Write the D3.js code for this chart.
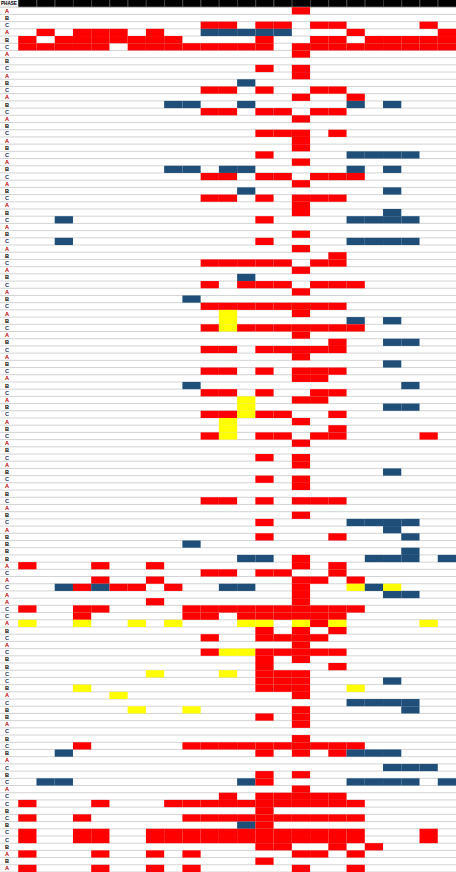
<!DOCTYPE html>
<html><head><meta charset="utf-8">
<script src="https://cdn.jsdelivr.net/npm/d3@7"></script>
<style>html,body{margin:0;padding:0;background:#fff;}svg{display:block;}</style>
</head><body>
<svg id="chart" width="456" height="872"></svg>
<script>
// Row labels (phases), top to bottom
const phases = [
  "A","B","C","A","B","C","A","B","C","A","B","C","A","B","C","A","B","C","A","B","C","A","B","C",
  "A","B","C","A","B","C","A","B","C","A","B","C","A","B","C","A","B","C","A","B","C","A","B","C",
  "A","B","C","A","B","C","A","B","C","A","B","C","A","B","C","A","B","C","A","B","C",
  "A","B","C","A","B","B","B","B","A","C",
  "A","C","A","A","C","C","A","B","C","A",
  "C","B","B","C","C","B","A","C","B","B",
  "A","C","B","C","B","A","C","B","C","A",
  "C","C","B","C","B","C","C","B","A","B","A"
];
// Column indices (24 time slots)
const columns = d3.range(24);
// Cell states per row: "." empty, "R" red, "N" navy, "Y" yellow (24 chars each)
const cellCodes = [
  "..................R.....".slice(0,0)+"...............R........",
  "........................",
  "..........RR.RR.RR....R.",
  ".R.RRR.R..NNNNN...R....R",
  "R.RRRRRRR....R..RR.RRRRR",
  "RRRRR.RRRRRRRR.RRRRRRRRR",
  "...............R........",
  "........................",
  ".............R.R........",
  "...............R........",
  "............N...........",
  "..........RR.R..RR......",
  "...............R..R.....",
  "........NN..N.....N.N...",
  "..........RR.RR.RR......",
  "...............R........",
  "........................",
  ".............RRR.R......",
  "...............R........",
  "...............R........",
  ".............R....NNNN..",
  "...............R........",
  "........NN.NN.....N.N...",
  "..........RR.RR.RRR.....",
  "...............R........",
  "............N.......N...",
  "..........RR.R.RRR......",
  "...............R........",
  "...............R....N...",
  "..N..........R....NNNN..",
  "........................",
  "...............R........",
  "..N..........R....NNNN..",
  "...............R........",
  ".................R......",
  "..........RRRRR.RR......",
  "...............R........",
  "............N...........",
  "..........R.RRR.RRR.....",
  "...............R........",
  ".........N..............",
  "..........RRRRRRRR......",
  "...........Y...R........",
  "...........Y......N.N...",
  "..........RYRRRRRRR.....",
  "...............R........",
  ".................R..NN..",
  "..........RR.RRRRR......",
  "...............R........",
  "....................N...",
  "..........RR.R.RRR......",
  "...............RR.......",
  ".........N...........N..",
  "..........RR.R..RR......",
  "............Y..RR.......",
  "............Y.......NN..",
  "..........RRYRR..R......",
  "...........Y...R........",
  "...........Y.....R......",
  "..........RY.RR.RR....R.",
  "...............R........",
  "........................",
  ".............R.R........",
  "...............R........",
  "....................N...",
  ".............R.R........",
  "...............R........",
  "........................",
  "..........RR.R.RRR......",
  "........................",
  "...............R........",
  ".............R....NNNN..",
  "....................N...",
  ".............R...R...N..",
  ".........N..............",
  ".....................N..",
  "............NN.R...NNN.N",
  "R...R..R.......R.R......",
  "..........RR.RR..R......",
  "....R..R.......RR.R.....",
  "..NRNRR.R..NN..R..YNY...",
  "...............R....NN..",
  ".......R.......R........",
  "R..RR....RRRRRRRRRR.....",
  "...R.....RR.RRRRRR......",
  "Y..Y..Y.Y...YY.YRY....Y.",
  ".............R.R.R......",
  "..........R..RRRR.......",
  "...............R........",
  "..........RYYRRRRR......",
  ".............R.R........",
  ".............R...R......",
  ".......Y...Y.RRR........",
  ".............RRR....N...",
  "...Y.........RRR..Y.....",
  ".....Y.........R........",
  "..................NNNN..",
  "......Y..Y.....R.....N..",
  ".............R.R........",
  "...............R........",
  "........................",
  "...............R........",
  "...R.....RRRRRRRRRR.....",
  "..N..........R.R.RNNN...",
  "........................",
  "....................NNN.",
  ".............R.R........",
  ".NN.........NR....NNNN.N",
  "...............R........",
  "...........R.RRRRR......",
  "R...R...RRRRRRRRRRR.....",
  ".............R..........",
  "R..R.....RRRRRRRRRR.....",
  "............NR..........",
  "R..RR..RRRRRRRRRRRR...R.",
  "R..RR..RRRRRRRRRRRR...R.",
  ".............RR..R.R....",
  "R...R..R.R.....RR.R.....",
  ".............R..........",
  "R...R..R.R.....R..R....."
];
const stateColors = { R: "#FF0000", N: "#1F4E79", Y: "#FFFF00" };
const labelColors = { A: "#C00000", B: "#000000", C: "#1F3864" };

const W = 456, H = 872;
const svg = d3.select("#chart");
const rowH = H / (phases.length + 1);
const colW = W / (columns.length + 1);

const x = d3.scaleBand().domain(columns).range([colW, W]);
const y = d3.scaleBand().domain(d3.range(phases.length)).range([rowH, H]);

// header
svg.append("rect").attr("x", 0).attr("y", 0).attr("width", colW).attr("height", rowH).attr("fill", "#f2f2f2");
svg.append("text").attr("x", 1).attr("y", rowH / 2).attr("dy", "0.35em")
  .attr("font-family", "Liberation Sans, Arial, sans-serif").attr("font-size", 4.6).attr("font-weight", "bold")
  .attr("fill", "#000").text("PHASE");
svg.selectAll("rect.hd").data(columns).join("rect").attr("class", "hd")
  .attr("x", d => x(d)).attr("y", 0).attr("width", x.bandwidth()).attr("height", rowH).attr("fill", "#000");
svg.selectAll("line.hdv").data(columns).join("line").attr("class", "hdv")
  .attr("x1", d => x(d) + 0.5).attr("x2", d => x(d) + 0.5).attr("y1", 0).attr("y2", rowH)
  .attr("stroke", "#555").attr("stroke-width", 0.6);

// gridlines
svg.selectAll("line.grid").data(d3.range(phases.length + 1)).join("line").attr("class", "grid")
  .attr("x1", 0).attr("x2", W)
  .attr("y1", d => rowH * (d + 1)).attr("y2", d => rowH * (d + 1))
  .attr("stroke", "#c8c8c8").attr("stroke-width", 0.8);

// cells
const cells = [];
cellCodes.forEach((s, r) => {
  columns.forEach(c => {
    const ch = s[c];
    if (ch && ch !== ".") cells.push({ r, c, ch });
  });
});
svg.selectAll("rect.cell").data(cells).join("rect").attr("class", "cell")
  .attr("x", d => x(d.c)).attr("y", d => y(d.r))
  .attr("width", x.bandwidth()).attr("height", y.bandwidth())
  .attr("fill", d => stateColors[d.ch]);

// row labels
svg.selectAll("text.lab").data(phases).join("text").attr("class", "lab")
  .attr("x", 7).attr("y", (d, i) => y(i) + y.bandwidth() / 2).attr("dy", "0.36em")
  .attr("text-anchor", "middle")
  .attr("font-family", "Liberation Sans, Arial, sans-serif").attr("font-size", 5.6).attr("font-weight", "bold")
  .attr("fill", d => labelColors[d]).text(d => d);
</script>
</body></html>
